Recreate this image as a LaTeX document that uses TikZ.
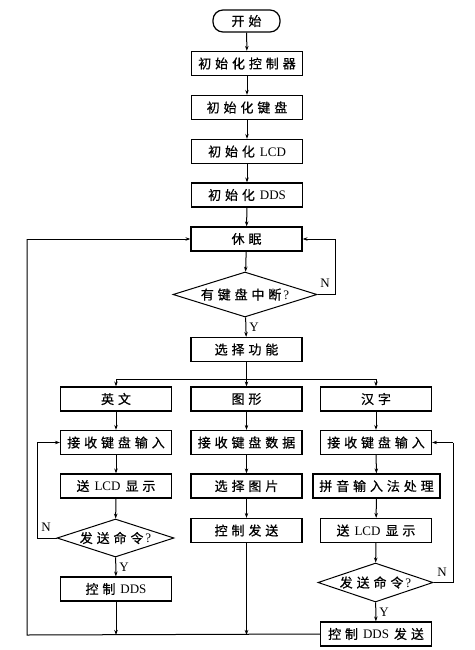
\documentclass[tikz,border=0pt]{standalone}
\usepackage{fontspec}
\setmainfont{Liberation Serif}
\newfontfamily\cjk[LetterSpace=30,FakeBold=0.6]{Noto Sans CJK SC}
\usetikzlibrary{shapes.geometric,arrows.meta}
\newcommand{\gapw}{\hspace{5pt}}
\tikzset{
  box/.style={draw, line width=1.2pt, minimum width=111pt, minimum height=24pt, inner sep=0pt,
    font=\fontsize{13}{14}\selectfont},
  dec/.style={draw, diamond, aspect=3, line width=1pt, inner sep=0pt,
    font=\fontsize{13}{14}\selectfont},
  conn/.style={line width=1pt},
  arr/.style={line width=1pt, -{Stealth[length=5pt,width=3.5pt]}},
  lbl/.style={font=\fontsize{13}{13}\selectfont, inner sep=0pt}
}
\begin{document}
\begin{tikzpicture}[x=1pt,y=-1pt]
\useasboundingbox (0,0) rectangle (474,650);
\fill[white] (0,0) rectangle (474,650);
% main column
\node[box, rounded corners=10pt, minimum width=67pt, minimum height=22pt] (start) at (246.5,21) {\cjk 开始};
\node[box] (ctrl) at (247,63.5) {\cjk 初始化控制器};
\node[box] (kbd) at (247,107.5) {\cjk 初始化键盘};
\node[box] (lcd) at (247,151.5) {{\cjk 初始化}\gapw LCD};
\node[box] (dds) at (247,195) {{\cjk 初始化}\gapw DDS};
\node[box] (sleep) at (246.5,239) {\cjk 休眠};
\node[dec, minimum width=144pt, minimum height=45pt] (d1) at (245,294.5) {{\cjk 有键盘中断}\kern2pt?};
\node[box] (sel) at (246.5,349.5) {\cjk 选择功能};
% branches
\node[box] (eng) at (116,399) {\cjk 英文};
\node[box] (gfx) at (246.5,399) {\cjk 图形};
\node[box] (chn) at (376,399) {\cjk 汉字};
\node[box] (in1) at (116,442.5) {\cjk 接收键盘输入};
\node[box] (dat) at (246.5,442.5) {\cjk 接收键盘数据};
\node[box] (in2) at (376,442.5) {\cjk 接收键盘输入};
\node[box] (lcd1) at (116,486) {{\cjk 送}\gapw LCD\gapw{\cjk 显示}};
\node[box] (pic) at (246.5,486) {\cjk 选择图片};
\node[box, minimum width=127pt] (pin) at (376.5,486) {\cjk 拼音输入法处理};
\node[dec, minimum width=117pt, minimum height=38pt] (d2) at (115.5,538) {{\cjk 发送命令}\kern2pt?};
\node[box] (snd) at (246.5,530.5) {\cjk 控制发送};
\node[box] (lcd2) at (376,530.5) {{\cjk 送}\gapw LCD\gapw{\cjk 显示}};
\node[dec, minimum width=115pt, minimum height=39pt] (d3) at (375.5,582.5) {{\cjk 发送命令}\kern2pt?};
\node[box] (ddsL) at (116,589) {{\cjk 控制}\gapw DDS};
\node[box] (ddsR) at (376,634) {{\cjk 控制}\gapw DDS\gapw{\cjk 发送}};
% coordinates
\coordinate (n1) at (335,294.5);
\coordinate (n1t) at (335,239);
\coordinate (br) at (246.5,379);
\coordinate (brL) at (116,379);
\coordinate (brR) at (376,379);
\coordinate (n2) at (37,538);
\coordinate (n2t) at (37,442.5);
\coordinate (n3) at (453,582.5);
\coordinate (n3t) at (453,442.5);
\coordinate (bl) at (27,635);
\coordinate (tl) at (27,239);
\coordinate (bL) at (116,635);
\coordinate (bM) at (246.5,635);
% connectors
\draw[arr] (start) -- (ctrl);
\draw[arr] (ctrl) -- (kbd);
\draw[arr] (kbd) -- (lcd);
\draw[arr] (lcd) -- (dds);
\draw[arr] (dds) -- (sleep);
\draw[arr] (sleep) -- (d1);
\draw[arr] (d1) -- node[lbl, right=3pt] {Y} (sel);
\draw[conn] (d1.east) -- (n1) -- (n1t);
\draw[arr] (n1t) -- (sleep.east);
\node[lbl] (N1) at (325,283) {N};
\draw[conn] (sel) -- (br);
\draw[conn] (brL) -- (brR);
\draw[arr] (brL) -- (eng);
\draw[arr] (br) -- (gfx);
\draw[arr] (brR) -- (chn);
\draw[arr] (eng) -- (in1);
\draw[arr] (in1) -- (lcd1);
\draw[arr] (lcd1) -- (d2);
\draw[arr] (d2) -- node[lbl, right=3pt] {Y} (ddsL);
\draw[conn] (d2.west) -- (n2) -- (n2t);
\draw[arr] (n2t) -- (in1.west);
\node[lbl] (N2) at (46,527) {N};
\draw[arr] (gfx) -- (dat);
\draw[arr] (dat) -- (pic);
\draw[arr] (pic) -- (snd);
\draw[arr] (chn) -- (in2);
\draw[arr] (in2) -- (pin);
\draw[arr] (pin) -- (lcd2);
\draw[arr] (lcd2) -- (d3);
\draw[arr] (d3) -- node[lbl, right=3pt] {Y} (ddsR);
\draw[conn] (d3.east) -- (n3) -- (n3t);
\draw[arr] (n3t) -- (in2.east);
\node[lbl] (N3) at (442,572) {N};
\draw[arr] (ddsL) -- (bL);
\draw[arr] (snd) -- (bM);
\draw[conn] (ddsR.west) -- (bl) -- (tl);
\draw[arr] (tl) -- (sleep.west);
\end{tikzpicture}
\end{document}
